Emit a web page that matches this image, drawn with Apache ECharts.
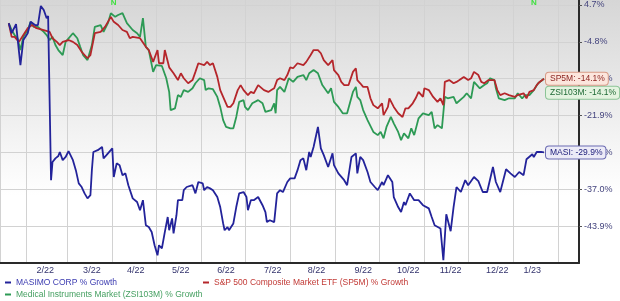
<!DOCTYPE html>
<html>
<head>
<meta charset="utf-8">
<script src="https://cdn.jsdelivr.net/npm/echarts@6/dist/echarts.min.js"></script>
<style>
  html, body { margin: 0; padding: 0; background: #fff; }
  #chart { width: 620px; height: 301px; }
</style>
</head>
<body>
<div id="chart"></div>
<script>
var masiData = [
  ['2022-01-20',0.7],['2022-01-22',-1.5],['2022-01-25',0.5],['2022-01-28',-8.5],['2022-01-30',-3.0],
  ['2022-02-02',-1.5],['2022-02-04',1.0],['2022-02-07',0.3],['2022-02-09',0.3],['2022-02-11',4.5],
  ['2022-02-13',3.6],['2022-02-15',1.8],['2022-02-16',2.3],['2022-02-17',2.7],['2022-02-18',-33.8],
  ['2022-02-19',-29.8],['2022-02-21',-29.0],['2022-02-23',-28.5],['2022-02-24',-27.6],['2022-02-26',-29.4],
  ['2022-02-28',-28.7],['2022-03-02',-27.4],['2022-03-05',-29.4],['2022-03-07',-31.6],['2022-03-09',-34.5],
  ['2022-03-11',-35.3],['2022-03-13',-36.7],['2022-03-15',-37.8],['2022-03-16',-38.0],['2022-03-17',-37.1],
  ['2022-03-18',-31.6],['2022-03-19',-27.6],['2022-03-22',-27.2],['2022-03-25',-26.5],['2022-03-26',-29.0],
  ['2022-03-28',-28.3],['2022-04-01',-26.8],['2022-04-02',-33.1],['2022-04-04',-30.1],['2022-04-06',-30.5],
  ['2022-04-08',-32.7],['2022-04-10',-32.3],['2022-04-12',-34.9],['2022-04-15',-37.8],['2022-04-18',-38.6],
  ['2022-04-20',-40.4],['2022-04-22',-38.2],['2022-04-24',-43.7],['2022-04-26',-44.1],['2022-04-28',-45.2],
  ['2022-04-30',-48.1],['2022-05-02',-50.3],['2022-05-03',-48.1],['2022-05-05',-48.8],['2022-05-07',-45.2],
  ['2022-05-09',-41.9],['2022-05-10',-44.8],['2022-05-12',-42.2],['2022-05-13',-45.5],['2022-05-15',-41.5],
  ['2022-05-16',-38.2],['2022-05-19',-38.2],['2022-05-20',-36.0],['2022-05-22',-35.3],['2022-05-26',-34.9],
  ['2022-05-28',-36.7],['2022-05-30',-34.2],['2022-06-02',-34.5],['2022-06-03',-36.0],['2022-06-05',-35.3],
  ['2022-06-07',-35.6],['2022-06-09',-36.0],['2022-06-12',-37.5],['2022-06-14',-39.7],['2022-06-16',-43.3],
  ['2022-06-17',-44.8],['2022-06-19',-44.1],['2022-06-20',-44.8],['2022-06-23',-43.3],['2022-06-25',-39.7],
  ['2022-06-27',-36.7],['2022-06-30',-36.4],['2022-07-02',-37.5],['2022-07-03',-40.4],['2022-07-05',-38.2],
  ['2022-07-07',-38.2],['2022-07-10',-37.5],['2022-07-13',-39.3],['2022-07-15',-40.8],['2022-07-16',-43.0],
  ['2022-07-18',-42.6],['2022-07-21',-43.0],['2022-07-23',-36.7],['2022-07-25',-36.0],['2022-07-27',-36.4],
  ['2022-07-30',-34.2],['2022-08-01',-33.4],['2022-08-04',-33.4],['2022-08-06',-31.6],['2022-08-08',-29.4],
  ['2022-08-10',-29.0],['2022-08-12',-31.6],['2022-08-14',-27.6],['2022-08-15',-28.7],['2022-08-17',-26.5],
  ['2022-08-20',-22.1],['2022-08-22',-26.8],['2022-08-24',-28.3],['2022-08-27',-30.9],['2022-08-30',-27.9],
  ['2022-08-31',-30.5],['2022-09-03',-32.3],['2022-09-07',-33.8],['2022-09-09',-34.9],['2022-09-12',-28.7],
  ['2022-09-15',-27.9],['2022-09-16',-32.3],['2022-09-18',-28.7],['2022-09-20',-29.4],['2022-09-23',-32.0],
  ['2022-09-25',-34.2],['2022-09-28',-35.3],['2022-09-30',-36.0],['2022-10-03',-34.2],['2022-10-04',-34.9],
  ['2022-10-07',-32.7],['2022-10-10',-34.2],['2022-10-11',-37.5],['2022-10-14',-39.7],['2022-10-16',-40.8],
  ['2022-10-18',-38.6],['2022-10-19',-39.3],['2022-10-22',-36.7],['2022-10-25',-38.2],['2022-10-28',-38.2],
  ['2022-10-31',-39.3],['2022-11-04',-40.0],['2022-11-06',-41.9],['2022-11-08',-43.7],['2022-11-12',-44.4],
  ['2022-11-14',-51.4],['2022-11-16',-41.3],['2022-11-19',-45.0],['2022-11-21',-39.7],['2022-11-23',-35.3],
  ['2022-11-26',-36.4],['2022-11-29',-33.8],['2022-12-01',-34.9],['2022-12-05',-33.1],['2022-12-08',-34.0],
  ['2022-12-11',-36.4],['2022-12-14',-36.4],['2022-12-18',-30.9],['2022-12-20',-34.2],['2022-12-23',-36.4],
  ['2022-12-27',-31.4],['2022-12-30',-32.3],['2023-01-02',-33.1],['2023-01-05',-32.0],['2023-01-08',-32.7],
  ['2023-01-10',-29.2],['2023-01-14',-28.1],['2023-01-15',-28.7],['2023-01-17',-27.6],['2023-01-20',-27.6],
  ['2023-01-22',-27.7]
];
var sp5mData = [
  ['2022-01-20',0.7],['2022-01-22',-2.3],['2022-01-24',-2.3],['2022-01-27',-3.4],['2022-01-30',-1.9],
  ['2022-02-02',-0.4],['2022-02-05',0.3],['2022-02-08',-0.4],['2022-02-13',-0.8],['2022-02-17',-1.2],
  ['2022-02-19',-2.6],['2022-02-22',-3.4],['2022-02-24',-4.1],['2022-02-26',-3.4],['2022-03-02',-3.0],
  ['2022-03-05',-3.4],['2022-03-08',-4.1],['2022-03-11',-5.6],['2022-03-15',-7.0],['2022-03-17',-6.3],
  ['2022-03-20',-1.5],['2022-03-24',-1.2],['2022-03-27',-0.1],['2022-03-31',2.1],['2022-04-02',1.0],
  ['2022-04-05',0.3],['2022-04-08',-0.8],['2022-04-11',-1.2],['2022-04-13',-2.6],['2022-04-15',-2.3],
  ['2022-04-20',-2.6],['2022-04-24',-4.5],['2022-04-26',-5.2],['2022-04-29',-7.8],['2022-05-02',-5.2],
  ['2022-05-03',-8.1],['2022-05-06',-8.1],['2022-05-07',-5.2],['2022-05-10',-9.0],['2022-05-13',-10.3],
  ['2022-05-16',-11.8],['2022-05-18',-10.3],['2022-05-20',-11.4],['2022-05-23',-12.5],['2022-05-26',-11.8],
  ['2022-05-28',-10.0],['2022-05-30',-8.1],['2022-06-03',-8.5],['2022-06-05',-7.8],['2022-06-07',-8.5],
  ['2022-06-09',-8.1],['2022-06-12',-11.1],['2022-06-14',-14.0],['2022-06-16',-15.5],['2022-06-19',-17.7],
  ['2022-06-21',-17.7],['2022-06-23',-16.9],['2022-06-26',-14.0],['2022-06-28',-12.9],['2022-06-30',-14.0],
  ['2022-07-03',-15.1],['2022-07-05',-14.4],['2022-07-07',-14.7],['2022-07-10',-12.9],['2022-07-14',-14.0],
  ['2022-07-17',-14.4],['2022-07-19',-14.0],['2022-07-21',-13.6],['2022-07-23',-11.8],['2022-07-25',-11.4],
  ['2022-07-28',-11.8],['2022-07-30',-10.7],['2022-08-01',-9.0],['2022-08-03',-9.2],['2022-08-06',-8.1],
  ['2022-08-10',-8.5],['2022-08-12',-7.8],['2022-08-15',-6.3],['2022-08-17',-5.2],['2022-08-20',-5.2],
  ['2022-08-22',-5.9],['2022-08-24',-7.4],['2022-08-27',-8.5],['2022-08-30',-7.4],['2022-08-31',-9.6],
  ['2022-09-03',-10.7],['2022-09-05',-12.2],['2022-09-07',-12.9],['2022-09-10',-12.9],['2022-09-13',-10.0],
  ['2022-09-15',-9.2],['2022-09-16',-11.8],['2022-09-18',-12.5],['2022-09-20',-13.3],['2022-09-23',-13.3],
  ['2022-09-25',-15.8],['2022-09-27',-17.3],['2022-09-30',-18.0],['2022-10-03',-16.9],['2022-10-04',-19.5],
  ['2022-10-07',-17.7],['2022-10-08',-15.8],['2022-10-11',-17.7],['2022-10-14',-19.1],['2022-10-17',-19.9],
  ['2022-10-19',-18.0],['2022-10-21',-18.0],['2022-10-24',-16.9],['2022-10-26',-15.8],['2022-10-28',-14.4],
  ['2022-10-31',-15.5],['2022-11-01',-13.6],['2022-11-04',-14.0],['2022-11-07',-15.5],['2022-11-10',-16.6],
  ['2022-11-12',-15.8],['2022-11-14',-17.3],['2022-11-15',-12.2],['2022-11-18',-11.8],['2022-11-21',-12.5],
  ['2022-11-23',-12.2],['2022-11-25',-11.8],['2022-11-28',-11.1],['2022-12-01',-11.8],['2022-12-03',-11.4],
  ['2022-12-05',-10.0],['2022-12-08',-10.7],['2022-12-10',-12.2],['2022-12-12',-12.5],['2022-12-15',-11.8],
  ['2022-12-17',-11.8],['2022-12-19',-11.8],['2022-12-21',-14.0],['2022-12-23',-15.1],['2022-12-26',-14.7],
  ['2022-12-29',-15.1],['2023-01-02',-15.5],['2023-01-04',-15.1],['2023-01-08',-14.7],['2023-01-10',-15.8],
  ['2023-01-12',-14.4],['2023-01-15',-14.0],['2023-01-17',-12.9],['2023-01-19',-12.2],['2023-01-22',-11.5]
];
var zsiData = [
  ['2022-01-20',0.7],['2022-01-22',-0.8],['2022-01-24',-1.9],['2022-01-26',-2.6],['2022-01-28',-5.2],
  ['2022-01-30',-2.3],['2022-02-02',-0.8],['2022-02-04',1.0],['2022-02-06',-0.1],['2022-02-09',-0.1],
  ['2022-02-13',-1.2],['2022-02-15',-1.9],['2022-02-17',-3.0],['2022-02-19',-2.3],['2022-02-21',-4.1],
  ['2022-02-23',-5.2],['2022-02-26',-6.3],['2022-02-28',-3.4],['2022-03-05',-1.5],['2022-03-08',-2.6],
  ['2022-03-10',-4.5],['2022-03-12',-6.3],['2022-03-15',-7.4],['2022-03-18',-4.1],['2022-03-20',-0.1],
  ['2022-03-24',0.3],['2022-03-26',-1.2],['2022-03-29',0.7],['2022-03-31',2.9],['2022-04-03',2.1],
  ['2022-04-05',2.5],['2022-04-08',2.9],['2022-04-11',0.7],['2022-04-15',-0.8],['2022-04-18',-1.5],
  ['2022-04-20',-2.3],['2022-04-22',1.8],['2022-04-24',-4.5],['2022-04-26',-5.2],['2022-04-29',-10.0],
  ['2022-05-01',-8.5],['2022-05-05',-8.7],['2022-05-08',-11.4],['2022-05-10',-14.4],['2022-05-11',-18.4],
  ['2022-05-14',-18.0],['2022-05-16',-15.1],['2022-05-18',-15.5],['2022-05-20',-14.0],['2022-05-23',-14.4],
  ['2022-05-26',-13.6],['2022-05-28',-12.5],['2022-05-31',-11.4],['2022-06-03',-11.8],['2022-06-04',-14.0],
  ['2022-06-06',-13.6],['2022-06-09',-13.8],['2022-06-12',-15.5],['2022-06-14',-17.7],['2022-06-16',-20.6],
  ['2022-06-18',-22.1],['2022-06-21',-22.4],['2022-06-23',-22.4],['2022-06-25',-19.9],['2022-06-27',-16.6],
  ['2022-06-30',-16.2],['2022-07-01',-17.7],['2022-07-03',-18.4],['2022-07-06',-16.9],['2022-07-10',-16.2],
  ['2022-07-13',-16.9],['2022-07-15',-18.8],['2022-07-16',-19.1],['2022-07-19',-18.4],['2022-07-21',-16.9],
  ['2022-07-22',-19.1],['2022-07-23',-14.0],['2022-07-25',-13.3],['2022-07-28',-14.4],['2022-07-31',-11.4],
  ['2022-08-03',-12.2],['2022-08-06',-11.1],['2022-08-10',-10.7],['2022-08-12',-11.8],['2022-08-14',-10.3],
  ['2022-08-17',-9.6],['2022-08-20',-10.3],['2022-08-23',-12.9],['2022-08-27',-14.7],['2022-08-29',-13.6],
  ['2022-08-31',-16.6],['2022-09-03',-17.7],['2022-09-06',-19.1],['2022-09-09',-19.1],['2022-09-13',-14.4],
  ['2022-09-15',-13.3],['2022-09-16',-15.5],['2022-09-18',-16.2],['2022-09-20',-18.4],['2022-09-23',-20.6],
  ['2022-09-27',-23.2],['2022-09-30',-23.9],['2022-10-02',-23.2],['2022-10-04',-24.6],['2022-10-06',-22.1],
  ['2022-10-09',-19.9],['2022-10-11',-21.3],['2022-10-14',-23.2],['2022-10-16',-25.0],['2022-10-18',-23.5],
  ['2022-10-21',-24.6],['2022-10-23',-22.4],['2022-10-25',-23.9],['2022-10-28',-20.2],['2022-10-31',-19.1],
  ['2022-11-04',-19.5],['2022-11-06',-18.8],['2022-11-08',-22.4],['2022-11-10',-21.7],['2022-11-13',-22.4],
  ['2022-11-15',-15.5],['2022-11-17',-15.8],['2022-11-21',-15.5],['2022-11-23',-16.9],['2022-11-24',-16.6],
  ['2022-11-28',-15.5],['2022-11-30',-14.7],['2022-12-03',-15.8],['2022-12-05',-12.2],['2022-12-09',-13.6],
  ['2022-12-12',-12.9],['2022-12-14',-12.5],['2022-12-16',-11.4],['2022-12-19',-11.8],['2022-12-20',-13.6],
  ['2022-12-22',-15.8],['2022-12-26',-16.2],['2022-12-29',-15.8],['2023-01-02',-15.8],['2023-01-04',-14.7],
  ['2023-01-07',-15.8],['2023-01-09',-15.1],['2023-01-12',-15.1],['2023-01-15',-14.0],['2023-01-18',-12.5],
  ['2023-01-22',-11.5]
];

var seriesNames = ['MASIMO CORP % Growth', 'S&P 500 Composite Market ETF (SP5M) % Growth', 'Medical Instruments Market (ZSI103M) % Growth'];
var tickers = ['MASI', 'SP5M', 'ZSI103M'];

var xTickDates = ['2022-02-14','2022-03-18','2022-04-17','2022-05-18','2022-06-18','2022-07-20',
                  '2022-08-19','2022-09-20','2022-10-21','2022-11-19','2022-12-21','2023-01-14'];
var xTickLabels = ['2/22','3/22','4/22','5/22','6/22','7/22','8/22','9/22','10/22','11/22','12/22','1/23'];

// gridlines of the y axis, bottom to top, and the percentages printed on them
var yTickNums = [-43.9, -37.0, -29.9, -21.9, -14.1, -4.8, 4.7];
var newsDates = ['2022-04-02', '2023-01-15'];

var xStart = '2022-01-14', xEnd = '2023-02-15';
var yMin = -52.0, yStep = 8.1, yMax = 5.8;

var colors = ['#23239a', '#b5262b', '#2d9a55'];
var legendColors = ['#3b3bb0', '#c23a36', '#46a062'];
var font = 'Liberation Sans, Arial, sans-serif';

function ts(d) { return echarts.time.parse(d).getTime(); }
function tickIndex(v) {
  var r = (v - yMin) / yStep;
  var i = Math.round(r);
  if (Math.abs(r - i) > 0.02) return -1;
  return i - 1;
}
function toDisplay(v) {
  // piecewise along the printed grid values
  var r = (v - yMin) / yStep - 1;
  var i = Math.max(0, Math.min(yTickNums.length - 2, Math.floor(r)));
  var f = r - i;
  return yTickNums[i] + f * (yTickNums[i + 1] - yTickNums[i]);
}

var xTickTimes = xTickDates.map(ts);

var chart = echarts.init(document.getElementById('chart'), null, { renderer: 'canvas' });

function tag(idx, bg, border, txt, extra) {
  var o = {
    show: true,
    formatter: function (p) {
      return tickers[idx] + ': ' + toDisplay(p.value[1]).toFixed(1) + '%';
    },
    color: txt,
    fontFamily: font,
    fontSize: 8.5,
    backgroundColor: bg,
    borderColor: border,
    borderWidth: 1,
    borderRadius: 3,
    padding: [2, 3, 1, 4],
    distance: 2
  };
  for (var k in extra) o[k] = extra[k];
  return o;
}

function legendAt(i, left, top) {
  return {
    left: left, top: top,
    orient: 'horizontal',
    icon: 'rect',
    itemWidth: 6,
    itemHeight: 2,
    padding: 0,
    selectedMode: false,
    textStyle: { fontSize: 8.5, fontFamily: font },
    data: [{ name: seriesNames[i], textStyle: { color: legendColors[i] } }]
  };
}

var option = {
  animation: false,
  backgroundColor: new echarts.graphic.LinearGradient(0, 0, 0, 1, [
    { offset: 0, color: '#d6d6d6' },
    { offset: 0.5, color: '#f6f6f6' },
    { offset: 0.65, color: '#ffffff' },
    { offset: 1, color: '#ffffff' }
  ]),
  grid: { left: 0, right: 41, top: 0, bottom: 38 },
  legend: [legendAt(0, 5, 278), legendAt(1, 203, 278), legendAt(2, 5, 290)],
  xAxis: [
    {
      // data axis: month gridlines
      type: 'time',
      min: xStart,
      max: xEnd,
      splitNumber: 13,
      axisLine: { show: true, onZero: false, lineStyle: { color: '#2a2a2a', width: 2 } },
      axisTick: { show: false },
      axisLabel: { show: false },
      splitLine: { show: true, lineStyle: { color: '#d2d2d2', width: 1 } }
    },
    {
      // label axis: month labels placed mid-month
      type: 'value',
      position: 'bottom',
      min: ts(xStart),
      max: ts(xEnd),
      axisLine: { show: false },
      axisTick: { show: false },
      splitLine: { show: false },
      axisLabel: {
        customValues: xTickTimes,
        hideOverlap: false,
        margin: 3,
        color: '#34346e',
        fontSize: 9,
        fontFamily: font,
        formatter: function (v) {
          for (var i = 0; i < xTickTimes.length; i++) {
            if (Math.abs(xTickTimes[i] - v) < 43200000) return xTickLabels[i];
          }
          return '';
        }
      }
    }
  ],
  yAxis: {
    type: 'value',
    position: 'right',
    min: yMin,
    max: yMax,
    interval: yStep,
    axisLine: { show: true, lineStyle: { color: '#2a2a2a', width: 2 } },
    axisTick: { show: true, length: 3, lineStyle: { color: '#555' } },
    axisLabel: {
      margin: 5,
      color: '#44447e',
      fontSize: 9,
      fontFamily: font,
      showMinLabel: false,
      showMaxLabel: false,
      formatter: function (v) {
        var i = tickIndex(v);
        if (i < 0 || i >= yTickNums.length) return '';
        return yTickNums[i].toFixed(1) + '%';
      }
    },
    splitLine: { show: true, showMinLine: false, showMaxLine: false, lineStyle: { color: '#d2d2d2', width: 1 } }
  },
  series: [
    {
      name: seriesNames[2],
      type: 'line',
      data: zsiData,
      symbol: 'none',
      color: colors[2],
      lineStyle: { width: 1.8 },
      z: 2,
      endLabel: tag(2, '#e4f3e0', '#8cc497', '#1f6a35', { offset: [0, 14] }),
      markPoint: {
        symbol: 'circle',
        symbolSize: 0,
        silent: true,
        label: { show: true, formatter: 'N', color: '#3fe03f', fontWeight: 'bold', fontSize: 8, position: 'inside' },
        data: newsDates.map(function (d) { return { coord: [d, yMax - 0.6] }; })
      }
    },
    {
      name: seriesNames[1],
      type: 'line',
      data: sp5mData,
      symbol: 'none',
      color: colors[1],
      lineStyle: { width: 1.8 },
      z: 3,
      endLabel: tag(1, '#fce6dd', '#d79a86', '#8b2320', {})
    },
    {
      name: seriesNames[0],
      type: 'line',
      data: masiData,
      symbol: 'none',
      color: colors[0],
      lineStyle: { width: 1.8 },
      z: 4,
      endLabel: tag(0, '#ecebf7', '#6a6ab2', '#20207c', {})
    }
  ]
};

chart.setOption(option);
</script>
</body>
</html>
